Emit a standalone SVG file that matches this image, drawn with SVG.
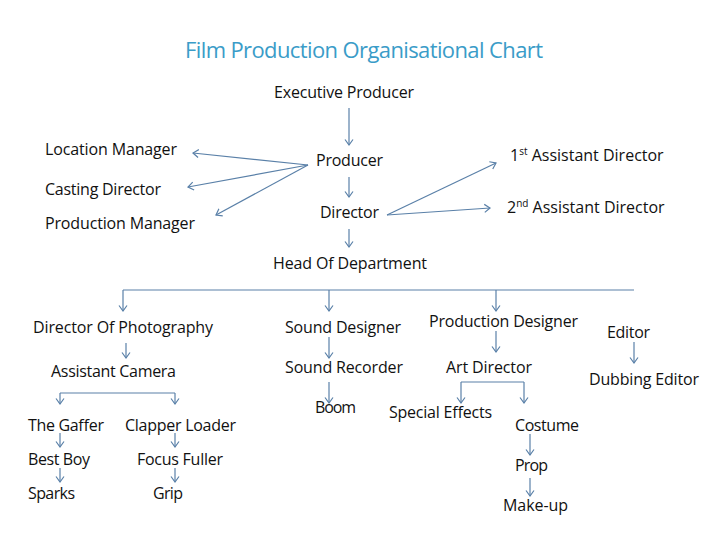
<svg xmlns="http://www.w3.org/2000/svg" width="728" height="546" viewBox="0 0 728 546">
<defs>
<marker id="ah" markerUnits="userSpaceOnUse" markerWidth="12" markerHeight="12" viewBox="-6 -6 12 12" refX="0" refY="0" orient="auto">
<path d="M-5.5,-4 L0,0 L-5.5,4" fill="none" stroke="#5A80A8" stroke-width="1.2"/>
</marker>
<style>
text{font-family:"Open Sans","Liberation Sans",sans-serif;font-size:16px;fill:#111}
.title{font-size:22px;fill:#3A9CC8}
.c{fill:none;stroke:#5A80A8;stroke-width:1.2}
.a{marker-end:url(#ah)}
</style>
</defs>
<rect width="728" height="546" fill="#fff"/>
<text class="title" x="185" y="58" textLength="358">Film Production Organisational Chart</text>
<g id="connectors">
<line class="c a" x1="349" y1="108" x2="349" y2="145"/>
<line class="c a" x1="349" y1="177" x2="349" y2="197"/>
<line class="c a" x1="349" y1="229" x2="349" y2="247"/>
<line class="c a" x1="308" y1="165" x2="193" y2="153"/>
<line class="c a" x1="308" y1="165" x2="188" y2="187"/>
<line class="c a" x1="308" y1="165" x2="216" y2="215"/>
<line class="c a" x1="387" y1="215" x2="496" y2="163"/>
<line class="c a" x1="387" y1="215" x2="490" y2="208"/>
<line class="c" x1="123" y1="290" x2="634" y2="290"/>
<line class="c a" x1="123" y1="290" x2="123" y2="311"/>
<line class="c a" x1="329" y1="290" x2="329" y2="311"/>
<line class="c a" x1="496" y1="290" x2="496" y2="311"/>
<line class="c a" x1="126" y1="343" x2="126" y2="358"/>
<polyline class="c" points="60,393 175,393"/>
<line class="c a" x1="60" y1="393" x2="60" y2="404"/>
<line class="c a" x1="175" y1="393" x2="175" y2="404"/>
<line class="c a" x1="60" y1="433" x2="60" y2="447"/>
<line class="c a" x1="60" y1="468" x2="60" y2="482"/>
<line class="c a" x1="175" y1="433" x2="175" y2="447"/>
<line class="c a" x1="175" y1="468" x2="175" y2="482"/>
<line class="c a" x1="329" y1="337" x2="329" y2="358"/>
<line class="c a" x1="329" y1="382" x2="329" y2="403"/>
<line class="c a" x1="496" y1="331" x2="496" y2="352"/>
<polyline class="c" points="461,382 524,382"/>
<line class="c a" x1="461" y1="382" x2="461" y2="403"/>
<line class="c a" x1="524" y1="382" x2="524" y2="403"/>
<line class="c a" x1="530" y1="434" x2="530" y2="455"/>
<line class="c a" x1="530" y1="478" x2="530" y2="496"/>
<line class="c a" x1="634" y1="342" x2="634" y2="363"/>
</g>
<g id="executive-producer"><text x="274" y="98" textLength="140">Executive Producer</text></g>
<g id="producer"><text x="316" y="166" textLength="67">Producer</text></g>
<g id="director"><text x="320" y="218" textLength="59">Director</text></g>
<g id="head-of-department"><text x="273" y="269" textLength="154">Head Of Department</text></g>
<g id="location-manager"><text x="45" y="155" textLength="132">Location Manager</text></g>
<g id="casting-director"><text x="45" y="195" textLength="116">Casting Director</text></g>
<g id="production-manager"><text x="45" y="229" textLength="150">Production Manager</text></g>
<g id="first-ad"><text x="510" y="161">1<tspan font-size="10" dy="-6">st</tspan><tspan dy="6"> Assistant Director</tspan></text></g>
<g id="second-ad"><text x="507" y="213">2<tspan font-size="10" dy="-6">nd</tspan><tspan dy="6"> Assistant Director</tspan></text></g>
<g id="director-of-photography"><text x="33" y="333" textLength="180">Director Of Photography</text></g>
<g id="assistant-camera"><text x="51" y="377" textLength="125">Assistant Camera</text></g>
<g id="the-gaffer"><text x="28" y="431" textLength="76">The Gaffer</text></g>
<g id="clapper-loader"><text x="125" y="431" textLength="111">Clapper Loader</text></g>
<g id="best-boy"><text x="28" y="465" textLength="62">Best Boy</text></g>
<g id="focus-fuller"><text x="137" y="465" textLength="86">Focus Fuller</text></g>
<g id="sparks"><text x="28" y="499" textLength="47">Sparks</text></g>
<g id="grip"><text x="153" y="499" textLength="30">Grip</text></g>
<g id="sound-designer"><text x="285" y="333" textLength="116">Sound Designer</text></g>
<g id="sound-recorder"><text x="285" y="373" textLength="118">Sound Recorder</text></g>
<g id="boom"><text x="315" y="413" textLength="41">Boom</text></g>
<g id="production-designer"><text x="429" y="327" textLength="149">Production Designer</text></g>
<g id="art-director"><text x="446" y="373" textLength="86">Art Director</text></g>
<g id="special-effects"><text x="389" y="418" textLength="103">Special Effects</text></g>
<g id="costume"><text x="515" y="431" textLength="64">Costume</text></g>
<g id="prop"><text x="515" y="471" textLength="33">Prop</text></g>
<g id="make-up"><text x="503" y="511" textLength="65">Make-up</text></g>
<g id="editor"><text x="607" y="338" textLength="43">Editor</text></g>
<g id="dubbing-editor"><text x="589" y="385" textLength="110">Dubbing Editor</text></g>
</svg>
